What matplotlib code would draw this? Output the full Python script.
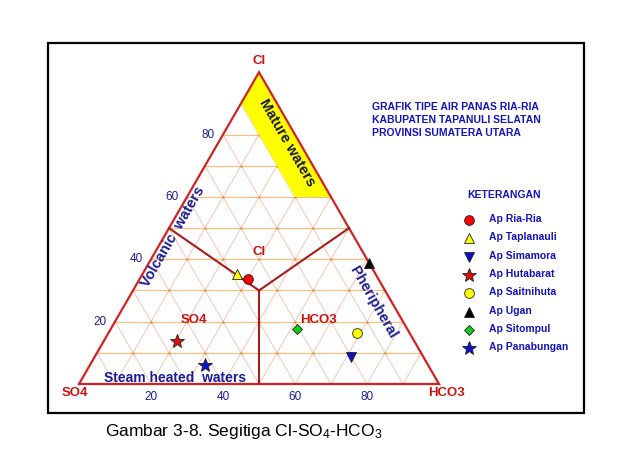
import matplotlib
matplotlib.use("Agg")
import matplotlib.pyplot as plt
import numpy as np
from matplotlib.patches import Polygon, Rectangle

plt.rcParams['font.family'] = ['Liberation Sans', 'DejaVu Sans']
plt.rcParams['mathtext.default'] = 'regular'

# data sampel: persen Cl dan HCO3 (SO4 = 100 - Cl - HCO3)
sampel = ['Ap Ria-Ria', 'Ap Taplanauli', 'Ap Simamora', 'Ap Hutabarat',
          'Ap Saitnihuta', 'Ap Ugan', 'Ap Sitompul', 'Ap Panabungan']
cl = [33.8, 35.2, 8.8, 13.8, 16.2, 38.7, 17.8, 6.1]
hco3 = [30.0, 26.2, 71.2, 20.4, 69.0, 61.3, 51.6, 31.9]

# batas zona (Cl, HCO3)
titik_tengah = (30, 35)
batas_zona = [(50, 0), (50, 50), (0, 50)]
mature = [(100, 0), (90, 0), (60, 30), (60, 40)]

tick_vals = [20, 40, 60, 80]
judul = ['GRAFIK TIPE AIR PANAS RIA-RIA', 'KABUPATEN TAPANULI SELATAN',
         'PROVINSI SUMATERA UTARA']

# gaya marker
gaya = [('o', '#ff0000', 7), ('^', '#ffff00', 7.5), ('v', '#1010c8', 7.5),
        ('*', '#dd1010', 10), ('o', '#ffff00', 7), ('^', '#000000', 7.5),
        ('D', '#10cc10', 5), ('*', '#1010d0', 10)]

MERAH = '#cc1414'
BIRU = '#1414b8'
NAVY = '#1c1c96'
S3 = np.sqrt(3) / 2


def tern(c, h):
    c = np.asarray(c, dtype=float)
    h = np.asarray(h, dtype=float)
    return h + c / 2, c * S3


W, H = 629, 472
fig = plt.figure(figsize=(W / 100, H / 100), dpi=100)

# sumbu untuk tata letak (koordinat piksel)
lay = fig.add_axes([0, 0, 1, 1])
lay.set_xlim(0, W)
lay.set_ylim(H, 0)
lay.axis('off')

# sumbu ternary
ax = fig.add_axes([0, 0, 1, 1])
sc = 3.6
ax.set_xlim(-79 / sc, (W - 79) / sc)
ax.set_ylim(-(H - 384) / sc, 384 / sc)
ax.axis('off')
ax.patch.set_alpha(0)

lay.add_patch(Rectangle((47.5, 42.5), 536, 370.5, fill=False, ec='black', lw=1.6))

# grid
for v in range(10, 100, 10):
    x, y = tern([v, v], [0, 100 - v])
    ax.plot(x, y, color='#f7c080', lw=0.9, zorder=1)
    x, y = tern([0, 100 - v], [v, v])
    ax.plot(x, y, color='#f4bcaa', lw=0.6, zorder=1)
    x, y = tern([0, 100 - v], [100 - v, 0])
    ax.plot(x, y, color='#f4bcaa', lw=0.6, zorder=1)
gc, gh = [], []
for c in range(10, 100, 10):
    for h in range(10, 100 - c, 10):
        gc.append(c)
        gh.append(h)
x, y = tern(gc, gh)
ax.plot(x, y, 'o', ms=1.8, color='#f39040', mec='none', zorder=1.5)

# zona mature waters
mc, mh = zip(*mature)
mx, my = tern(mc, mh)
ax.add_patch(Polygon(np.column_stack([mx, my]), closed=True, fc='#ffff00', ec='none', zorder=2))

# segitiga
x, y = tern([0, 0, 100, 0], [0, 100, 0, 0])
ax.plot(x, y, color='#d42222', lw=1.6, zorder=3, solid_joinstyle='miter')

# garis batas zona
for c, h in batas_zona:
    x, y = tern([titik_tengah[0], c], [titik_tengah[1], h])
    ax.plot(x, y, color='#a81c1c', lw=1.5, zorder=3)

# label tick
for v in tick_vals:
    x, y = tern(v, 0)
    ax.text(x - 4.2, y, str(v), color=NAVY, fontsize=8.5, ha='center', va='center')
    x, y = tern(0, v)
    ax.text(x, y - 3.6, str(v), color=NAVY, fontsize=8.5, ha='center', va='center')

# label sudut
x, y = tern(100, 0)
ax.text(x, y + 3.0, 'Cl', color=MERAH, fontsize=9.5, weight='bold', ha='center', va='center')
ax.text(-1.1, -2.5, 'SO4', color=MERAH, fontsize=9.5, weight='bold', ha='center', va='center')
ax.text(102.2, -2.5, 'HCO3', color=MERAH, fontsize=9.5, weight='bold', ha='center', va='center')

# label zona
ax.text(50, 36.7, 'Cl', color=MERAH, fontsize=9.5, weight='bold', ha='center', va='center')
ax.text(31.9, 17.8, 'SO4', color=MERAH, fontsize=9.5, weight='bold', ha='center', va='center')
ax.text(66.4, 17.8, 'HCO3', color=MERAH, fontsize=9.5, weight='bold', ha='center', va='center')

ax.text(57.7, 66.9, 'Mature waters', color='#181840', fontsize=10.5, weight='bold',
        rotation=-60, ha='center', va='center', rotation_mode='anchor')
ax.text(26.1, 40.8, 'Volcanic  waters', color=NAVY, fontsize=10.5, weight='bold',
        rotation=60, ha='center', va='center', rotation_mode='anchor')
ax.text(81.7, 22.8, 'Pheripheral', color=NAVY, fontsize=10.5, weight='bold',
        rotation=-60, ha='center', va='center', rotation_mode='anchor')
ax.text(26.7, 1.7, 'Steam heated  waters', color=NAVY, fontsize=10, weight='bold',
        ha='center', va='center')

# titik sampel
px, py = tern(cl, hco3)
for i in range(len(sampel)):
    m, fc, ms = gaya[i]
    ax.plot(px[i], py[i], marker=m, color=fc, ms=ms, mec='#202020', mew=0.6,
            ls='none', zorder=5)

# judul
for i, t in enumerate(judul):
    lay.text(372, 106.5 + i * 13.5, t, color=BIRU, fontsize=7.5, weight='bold',
             ha='left', va='center')

# keterangan
lay.text(467, 195, 'KETERANGAN', color=BIRU, fontsize=7.5, weight='bold',
         ha='left', va='center')
for i, nama in enumerate(sampel):
    m, fc, ms = gaya[i]
    yy = 220 + i * 18.3
    lay.plot(469, yy, marker=m, color=fc, ms=ms, mec='#202020', mew=0.6, ls='none')
    lay.text(489, yy - 1, nama, color=BIRU, fontsize=7.5, weight='bold',
             ha='left', va='center')

# keterangan gambar
lay.text(105, 436, 'Gambar 3-8. Segitiga Cl-SO$_4$-HCO$_3$', color='black',
         fontsize=12.5, ha='left', va='baseline')

fig.savefig('out.png', dpi=100)
